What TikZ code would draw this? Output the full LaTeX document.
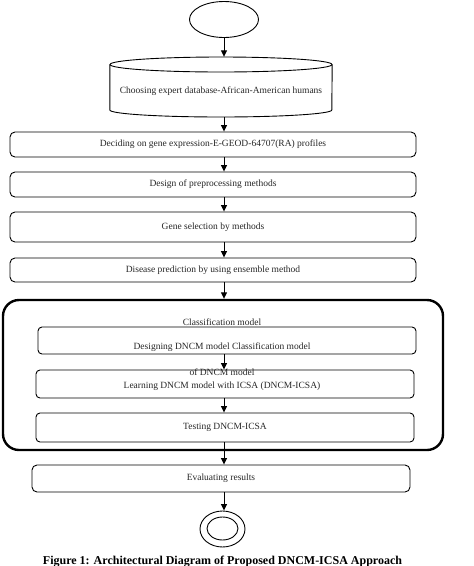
\documentclass[tikz,border=0pt]{standalone}
\usepackage{fontspec}
\setmainfont{Liberation Serif}
\usetikzlibrary{arrows.meta,shapes.geometric}
\begin{document}
\begin{tikzpicture}[x=1pt,y=-1pt,
  box/.style={draw, rounded corners=5pt, line width=0.9pt, inner sep=0pt, font=\fontsize{9.5}{11}\selectfont, text=black!85},
  plain/.style={draw=none, inner sep=0pt},
  lbl/.style={inner sep=0pt, font=\fontsize{9.5}{11}\selectfont, text=black!85},
  arr/.style={-{Triangle[length=6.5pt,width=6pt]}, line width=0.9pt},
  oval/.style={draw, ellipse, inner sep=0pt, line width=0.9pt}
]
\useasboundingbox (0,0) rectangle (474,566);

% start
\node[oval, minimum width=69pt, minimum height=36pt] (start) at (224,19.5) {};

% database cylinder
\node[plain, minimum width=222pt, minimum height=60pt] (db) at (221,87) {};
\draw[line width=0.9pt] (db.west |- 0,64.5) -- (db.west |- 0,110)
  arc[start angle=180, end angle=0, x radius=111, y radius=7] -- (db.east |- 0,64.5);
\draw[line width=0.9pt] (221,64.5) ellipse[x radius=111, y radius=7.5];
\node[lbl] (dbtext) at (221,91) {Choosing expert database-African-American humans};

% process boxes
\node[box, minimum width=406pt, minimum height=25pt] (b1) at (213,144.5) {Deciding on gene expression-E-GEOD-64707(RA) profiles};
\node[box, minimum width=406pt, minimum height=25pt] (b2) at (213,184.5) {Design of preprocessing methods};
\node[box, minimum width=406pt, minimum height=30pt] (b3) at (213,227) {Gene selection by methods};
\node[box, minimum width=406pt, minimum height=24pt] (b4) at (213,270) {Disease prediction by using ensemble method};

% classification model container
\node[draw, rounded corners=16pt, line width=2.4pt, minimum width=440pt, minimum height=150pt, inner sep=0pt] (cls) at (223,375) {};
\node[lbl] (clstitle) at (222,322) {Classification model};

\node[box, rounded corners=4pt, minimum width=378pt, minimum height=27pt] (ba) at (227,340.5) {};
\node[lbl] (batext) at (222,347) {Designing DNCM model Classification model};
\node[box, rounded corners=4pt, minimum width=378pt, minimum height=28pt] (bb) at (225,384) {};
\node[lbl] (bbtext) at (222,386) {Learning DNCM model with ICSA (DNCM-ICSA)};
\node[lbl] (ofdncm) at (222,372) {of DNCM model};
\node[box, rounded corners=4pt, minimum width=378pt, minimum height=29pt] (bc) at (225,427.5) {Testing DNCM-ICSA};

% evaluating
\node[box, minimum width=378pt, minimum height=27pt] (ev) at (221,478.5) {Evaluating results};

% end
\node[oval, minimum width=45pt, minimum height=36pt] (endo) at (222.5,529) {};
\node[oval, minimum width=31pt, minimum height=23pt] (endi) at (222.5,528.5) {};

% caption
\node[inner sep=0pt, anchor=base, font=\bfseries\fontsize{12}{14}\selectfont] (cap) at (222.5,564) {Figure 1: Architectural Diagram of Proposed DNCM-ICSA Approach};

% connectors
\draw[arr] (start.south) -- (start.south |- db.north);
\draw[arr] (db.south -| start) -- (b1.north -| start);
\draw[arr] (b1.south -| start) -- (b2.north -| start);
\draw[arr] (b2.south -| start) -- (b3.north -| start);
\draw[arr] (b3.south -| start) -- (b4.north -| start);
\draw[arr] (b4.south -| start) -- (cls.north -| start);
\draw[arr] (ba.south -| start) -- (bb.north -| start);
\draw[arr] (bb.south -| start) -- (bc.north -| start);
\draw[arr] (bc.south -| start) -- (ev.north -| start);
\draw[arr] (ev.south -| start) -- (endo.north -| start);
\end{tikzpicture}
\end{document}
